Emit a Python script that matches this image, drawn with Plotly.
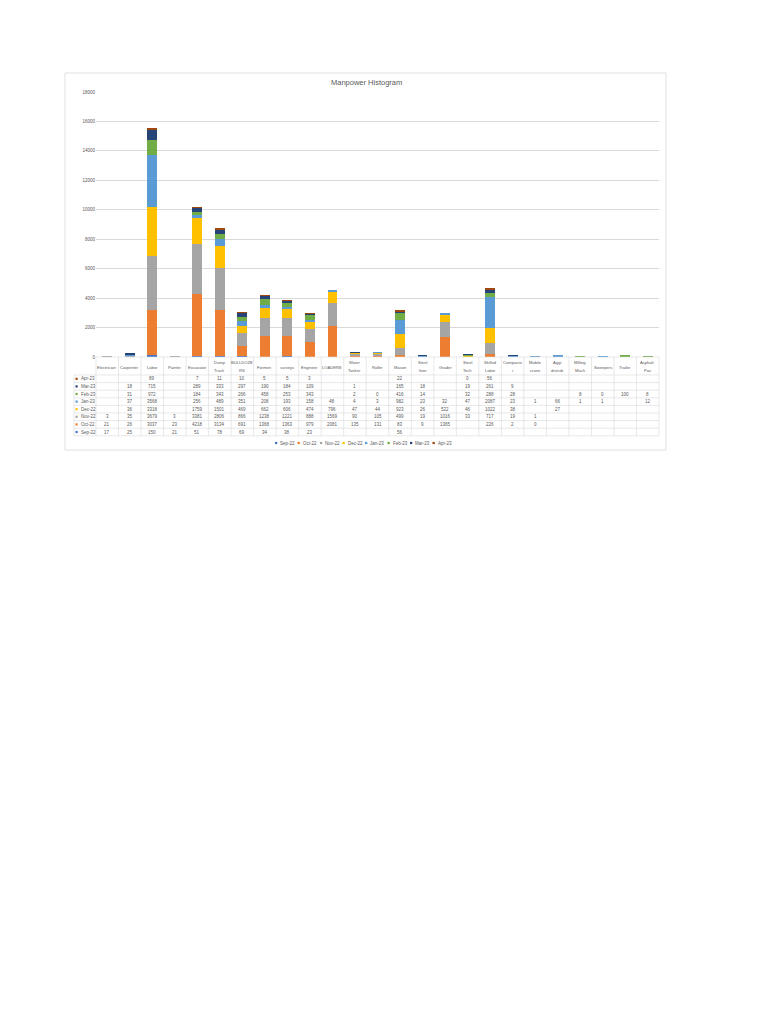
import plotly.graph_objects as go

# categories of manpower / equipment
categories = ["Electrician", "Carpenter", "Labor", "Painter", "Excavator", "Dump Truck",
              "BULLDOZERS", "Formen", "surveys", "Engineer", "LOADERS", "Water Tanker",
              "Roller", "Mason", "Steel fixer", "Grader", "Steel Tech", "Skilled Labor",
              "Compactor", "Mobile crane", "Aggr distrub", "Milling Mach", "Sweepers",
              "Trailer", "Asphalt Pav"]
# labels as they wrap in the table header
header_labels = ["Electrician", "Carpenter", "Labor", "Painter", "Excavator", "Dump<br>Truck",
                 "BULLDOZE<br>RS", "Formen", "surveys", "Engineer", "LOADERS", "Water<br>Tanker",
                 "Roller", "Mason", "Steel<br>fixer", "Grader", "Steel<br>Tech", "Skilled<br>Labor",
                 "Compacto<br>r", "Mobile<br>crane", "Aggr<br>distrub", "Milling<br>Mach", "Sweepers",
                 "Trailer", "Asphalt<br>Pav"]

months = ["Sep-22", "Oct-22", "Nov-22", "Dec-22", "Jan-23", "Feb-23", "Mar-23", "Apr-23"]
N = None
sep_22 = [17, 25, 150, 21, 51, 78, 69, 34, 38, 23, N, N, N, 56, N, N, N, N, N, N, N, N, N, N, N]
oct_22 = [21, 26, 3037, 23, 4218, 3134, 691, 1368, 1363, 979, 2081, 135, 131, 83, 9, 1365, N, 226, 2, 0, N, N, N, N, N]
nov_22 = [3, 35, 3679, 3, 3381, 2806, 866, 1238, 1221, 888, 1569, 90, 105, 499, 19, 1016, 33, 717, 19, 1, N, N, N, N, N]
dec_22 = [N, 36, 3318, N, 1759, 1501, 469, 662, 606, 474, 796, 47, 44, 923, 26, 522, 46, 1022, 38, N, 27, N, N, N, N]
jan_23 = [N, 37, 3568, N, 256, 489, 351, 208, 193, 158, 48, 4, 3, 982, 23, 32, 47, 2087, 23, 1, 66, 1, 1, N, 12]
feb_23 = [N, 31, 972, N, 184, 343, 266, 458, 253, 343, N, 2, 0, 416, 14, N, 32, 288, 28, N, N, 8, 0, 100, 8]
mar_23 = [N, 18, 715, N, 289, 333, 297, 190, 184, 109, N, 1, N, 165, 18, N, 19, 261, 9, N, N, N, N, N, N]
apr_23 = [N, N, 89, N, 7, 11, 10, 5, 5, 3, N, N, N, 22, N, N, 0, 56, N, N, N, N, N, N, N]
series = [sep_22, oct_22, nov_22, dec_22, jan_23, feb_23, mar_23, apr_23]

colors = ["#4472C4", "#ED7D31", "#A5A5A5", "#FFC000", "#5B9BD5", "#70AD47", "#264478", "#9E480E"]

y_ticks = [0, 2000, 4000, 6000, 8000, 10000, 12000, 14000, 16000, 18000]

# page geometry in page pixels; the html body adds an 8px margin
OFF = 8
W, H = 768 - OFF, 1024 - OFF
PL, PT, PR, PB = 96, 92, 659, 357       # plot area on the page
L, T = PL - OFF, PT - OFF
pw, ph = PR - PL, PB - PT
R, B = W - L - pw, H - T - ph
FONT = "Liberation Sans"
GREY = "#595959"
LINE = "#D9D9D9"
FS = 4.5


def xp(px):
    return (px - PL) / pw


def yp(py):
    return (PB - py) / ph


def txt(text, x, y, xref="paper", xanchor="center", size=FS):
    return dict(text=text, x=x, y=y, xref=xref, yref="paper", xanchor=xanchor,
                yanchor="middle", showarrow=False,
                font=dict(size=size, color=GREY, family=FONT))


fig = go.Figure()
for name, vals, col in zip(months, series, colors):
    fig.add_trace(go.Bar(x=categories, y=vals, name=name, marker_color=col,
                         marker_line_width=0))

shapes = []
annotations = []

# chart border
shapes.append(dict(type="rect", xref="paper", yref="paper", x0=xp(65), x1=xp(666),
                   y0=yp(73), y1=yp(450), line=dict(color=LINE, width=0.8)))

# title
annotations.append(txt("Manpower Histogram", xp(366), yp(82), size=7.5))

# data table under the chart
n = len(categories)
head_top, head_bot, row_h = 357, 375, 7.6
rows = list(reversed(months))
tab_bot = head_bot + row_h * len(rows)
first_left = 74

for i in range(n + 1):
    shapes.append(dict(type="line", xref="paper", yref="paper", x0=i / n, x1=i / n,
                       y0=yp(head_top), y1=yp(tab_bot), line=dict(color=LINE, width=0.6)))
shapes.append(dict(type="line", xref="paper", yref="paper", x0=0, x1=1,
                   y0=yp(head_top), y1=yp(head_top), line=dict(color=LINE, width=0.6)))
shapes.append(dict(type="line", xref="paper", yref="paper", x0=xp(first_left), x1=xp(first_left),
                   y0=yp(head_bot), y1=yp(tab_bot), line=dict(color=LINE, width=0.6)))
for k in range(len(rows) + 1):
    yy = yp(head_bot + k * row_h)
    shapes.append(dict(type="line", xref="paper", yref="paper", x0=xp(first_left), x1=1,
                       y0=yy, y1=yy, line=dict(color=LINE, width=0.6)))

for cat, lab in zip(categories, header_labels):
    parts = lab.split("<br>")
    if len(parts) == 1:
        annotations.append(txt(parts[0], cat, yp(367), xref="x", size=4.1))
    else:
        annotations.append(txt(parts[0], cat, yp(362.5), xref="x", size=4.1))
        annotations.append(txt(parts[1], cat, yp(370), xref="x", size=4.1))

for r, m in enumerate(rows):
    idx = months.index(m)
    cy = yp(head_bot + (r + 0.5) * row_h)
    shapes.append(dict(type="rect", xref="paper", yref="paper", x0=xp(75.5), x1=xp(77.7),
                       y0=cy - 1.1 / ph, y1=cy + 1.1 / ph, fillcolor=colors[idx], line_width=0))
    annotations.append(txt(m, xp(78.5), cy, xanchor="left"))
    for cat, v in zip(categories, series[idx]):
        if v is None:
            continue
        annotations.append(txt(str(v), cat, cy, xref="x"))

# legend drawn under the table
leg_x0, leg_step, leg_y = 275, 22.5, 443
for j, (m, col) in enumerate(zip(months, colors)):
    x0 = leg_x0 + j * leg_step
    shapes.append(dict(type="rect", xref="paper", yref="paper", x0=xp(x0), x1=xp(x0 + 2.3),
                       y0=yp(leg_y + 1.1), y1=yp(leg_y - 1.1), fillcolor=col, line_width=0))
    annotations.append(txt(m, xp(x0 + 3), yp(leg_y), xanchor="left"))

fig.update_layout(
    width=W, height=H,
    margin=dict(l=L, r=R, t=T, b=B, pad=0),
    paper_bgcolor="white", plot_bgcolor="white",
    barmode="stack", bargap=0.56,
    showlegend=False,
    shapes=shapes, annotations=annotations,
    font=dict(family=FONT, color=GREY),
)
fig.update_xaxes(showticklabels=False, showgrid=False, showline=False, ticks="",
                 range=[-0.5, n - 0.5], fixedrange=True)
fig.update_yaxes(range=[0, 18000], tickvals=y_ticks, ticktext=[str(t) for t in y_ticks],
                 showgrid=True, gridcolor=LINE, gridwidth=0.7, zeroline=False,
                 showline=False, ticks="", tickfont=dict(size=FS, color=GREY, family=FONT),
                 fixedrange=True)

fig.write_html("out.html")
